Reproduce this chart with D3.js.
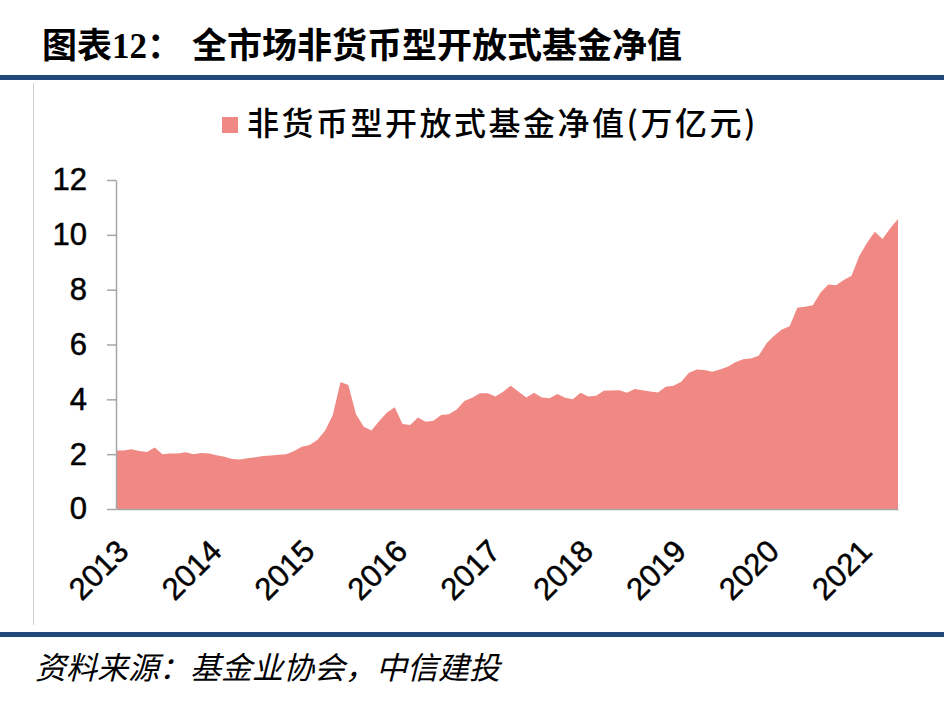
<!DOCTYPE html>
<html>
<head>
<meta charset="utf-8">
<script src="https://cdn.jsdelivr.net/npm/d3@7"></script>
<style>
  body { margin: 0; background: #ffffff; }
  svg { display: block; }
</style>
</head>
<body>
<div id="chart"></div>
<script>
// monthly net value, 万亿元 (Jan 2013 - Jun 2021)
const nav2013 = [2.13, 2.13, 2.18, 2.12, 2.08, 2.24, 2.00, 2.02, 2.02, 2.07, 2.00, 2.04]
const nav2014 = [2.02, 1.96, 1.91, 1.82, 1.81, 1.85, 1.89, 1.93, 1.95, 1.98, 2.00, 2.12]
const nav2015 = [2.27, 2.33, 2.52, 2.85, 3.43, 4.63, 4.52, 3.46, 3.00, 2.86, 3.21, 3.52]
const nav2016 = [3.71, 3.10, 3.06, 3.34, 3.18, 3.22, 3.43, 3.46, 3.63, 3.94, 4.06, 4.22]
const nav2017 = [4.22, 4.10, 4.28, 4.50, 4.28, 4.07, 4.24, 4.07, 4.04, 4.19, 4.06, 4.00]
const nav2018 = [4.24, 4.10, 4.13, 4.31, 4.32, 4.33, 4.24, 4.38, 4.33, 4.29, 4.25, 4.46]
const nav2019 = [4.50, 4.64, 4.97, 5.09, 5.07, 5.01, 5.09, 5.19, 5.35, 5.46, 5.49, 5.59]
const nav2020 = [6.04, 6.32, 6.55, 6.67, 7.34, 7.38, 7.43, 7.90, 8.19, 8.16, 8.35, 8.51]
const nav2021 = [9.23, 9.71, 10.11, 9.85, 10.24, 10.58]

const years = ['2013', '2014', '2015', '2016', '2017', '2018', '2019', '2020', '2021']
const yTicks = [0, 2, 4, 6, 8, 10, 12]

const seriesName = '非货币型开放式基金净值(万亿元)'
const titleText = '全市场非货币型开放式基金净值'
const sourceText = '资料来源：基金业协会，中信建投'

const navValues = [].concat(nav2013, nav2014, nav2015, nav2016, nav2017,
  nav2018, nav2019, nav2020, nav2021)

const width = 944
const height = 704
const plot = { left: 116, right: 898, top: 180, bottom: 509 }
const areaColor = '#f08884'
const axisColor = '#a6a6a6'
const blue = '#1f4a7a'
const cjk = '"Noto Sans CJK SC", "Noto Sans", sans-serif'
const latin = '"Liberation Sans", Arial, sans-serif'

const svg = d3.select('#chart').append('svg')
  .attr('width', width)
  .attr('height', height)

svg.append('rect')
  .attr('width', width)
  .attr('height', height)
  .attr('fill', '#ffffff')

/*********** header ***********/
const title = svg.append('text')
  .attr('x', 42)
  .attr('y', 58)
  .attr('font-family', cjk)
  .attr('font-weight', 700)
  .attr('font-size', 35)
  .attr('fill', '#000000')

title.append('tspan').text('图表')
title.append('tspan')
  .attr('font-family', '"Liberation Serif", "Times New Roman", serif')
  .text('12')
title.append('tspan').text('：')
title.append('tspan')
  .attr('x', 192)
  .text(titleText)

svg.append('rect')
  .attr('x', 0)
  .attr('y', 75)
  .attr('width', width)
  .attr('height', 5)
  .attr('fill', blue)

svg.append('rect')
  .attr('x', 0)
  .attr('y', 632)
  .attr('width', width)
  .attr('height', 5)
  .attr('fill', blue)

// chart area border (only the left edge shows)
svg.append('line')
  .attr('x1', 33.5)
  .attr('x2', 33.5)
  .attr('y1', 83)
  .attr('y2', 625)
  .attr('stroke', '#d0d0d0')
  .attr('stroke-width', 1)

/*********** legend ***********/
svg.append('rect')
  .attr('x', 222)
  .attr('y', 117)
  .attr('width', 16)
  .attr('height', 16)
  .attr('fill', areaColor)

svg.append('text')
  .attr('x', 247)
  .attr('y', 135)
  .attr('font-family', cjk)
  .attr('font-weight', 500)
  .attr('font-size', 32)
  .attr('letter-spacing', 2.5)
  .attr('fill', '#000000')
  .text(seriesName)

/*********** scales ***********/
const xScale = d3.scaleLinear()
  .domain([0, navValues.length - 1])
  .range([plot.left, plot.right])

const yScale = d3.scaleLinear()
  .domain([0, 12])
  .range([plot.bottom, plot.top])

const area = d3.area()
  .x((d, i) => xScale(i))
  .y0(yScale(0))
  .y1(d => yScale(d))

svg.append('path')
  .datum(navValues)
  .attr('d', area)
  .attr('fill', areaColor)

/*********** axes ***********/
const gy = svg.append('g')
  .attr('class', 'y axis')
  .attr('transform', 'translate(' + plot.left + ',0)')
  .call(d3.axisLeft(yScale)
    .tickValues(yTicks)
    .tickSize(9)
    .tickSizeOuter(0)
    .tickPadding(20))

const gx = svg.append('g')
  .attr('class', 'x axis')
  .attr('transform', 'translate(0,' + plot.bottom + ')')
  .call(d3.axisBottom(xScale)
    .tickValues(years.map((y, i) => i * 12))
    .tickFormat((d, i) => years[i])
    .tickSize(0)
    .tickSizeOuter(0))

gx.selectAll('text')
  .attr('text-anchor', 'end')
  .attr('x', 0)
  .attr('y', 0)
  .attr('dy', 0)
  .attr('transform', 'translate(14,44) rotate(-45)')

svg.selectAll('.axis text')
  .attr('font-family', latin)
  .attr('font-size', 31)
  .attr('fill', '#000000')
  .attr('stroke', '#000000')
  .attr('stroke-width', 0.5)

svg.selectAll('.axis path, .axis line')
  .attr('stroke', axisColor)
  .attr('stroke-width', 1.5)

/*********** source ***********/
svg.append('text')
  .attr('x', 35)
  .attr('y', 679)
  .attr('font-family', cjk)
  .attr('font-style', 'italic')
  .attr('font-size', 31)
  .attr('fill', '#000000')
  .text(sourceText)
</script>
</body>
</html>
